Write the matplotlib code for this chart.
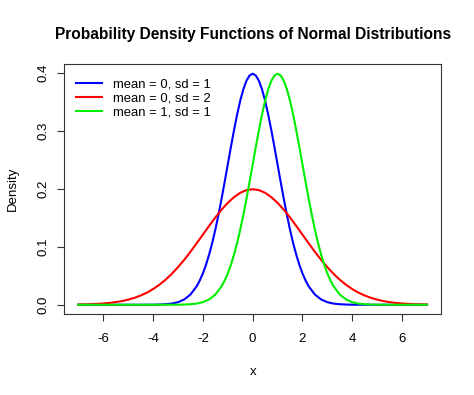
import matplotlib
matplotlib.use("Agg")
import matplotlib.pyplot as plt

plt.rcParams['font.family'] = ['Liberation Sans', 'DejaVu Sans']

# x grid for mean = 0, sd = 2 (step 0.25)
x_m0_s2 = [-7.0, -6.75, -6.5, -6.25, -6.0, -5.75, -5.5, -5.25, -5.0, -4.75, -4.5, -4.25,
           -4.0, -3.75, -3.5, -3.25, -3.0, -2.75, -2.5, -2.25, -2.0, -1.75, -1.5, -1.25,
           -1.0, -0.75, -0.5, -0.25, 0.0, 0.25, 0.5, 0.75, 1.0, 1.25, 1.5, 1.75, 2.0,
           2.25, 2.5, 2.75, 3.0, 3.25, 3.5, 3.75, 4.0, 4.25, 4.5, 4.75, 5.0, 5.25, 5.5,
           5.75, 6.0, 6.25, 6.5, 6.75, 7.0]
dens_m0_s2 = [0.0004, 0.0007, 0.0010, 0.0015, 0.0022, 0.0032, 0.0046, 0.0063, 0.0088, 0.0119, 0.0159, 0.0208,
              0.0270, 0.0344, 0.0431, 0.0533, 0.0648, 0.0774, 0.0913, 0.1060, 0.1210, 0.1360, 0.1506, 0.1641,
              0.1760, 0.1857, 0.1933, 0.1979, 0.1995, 0.1979, 0.1933, 0.1857, 0.1760, 0.1641, 0.1506, 0.1360, 0.1210,
              0.1060, 0.0913, 0.0774, 0.0648, 0.0533, 0.0431, 0.0344, 0.0270, 0.0208, 0.0159, 0.0119, 0.0088, 0.0063, 0.0046,
              0.0032, 0.0022, 0.0015, 0.0010, 0.0007, 0.0004]

# x grid for mean = 0, sd = 1 (finer near the peak)
x_m0_s1 = [-7.0, -6.75, -6.5, -6.25, -6.0, -5.75, -5.5, -5.25, -5.0, -4.75, -4.5, -4.25,
           -4.0, -3.75, -3.5, -3.25, -3.0, -2.75, -2.5, -2.25,
           -2.125, -2.0, -1.875, -1.75, -1.625, -1.5, -1.375, -1.25, -1.125, -1.0, -0.875, -0.75,
           -0.625, -0.5, -0.375, -0.25, -0.125, 0.0, 0.125, 0.25, 0.375, 0.5, 0.625, 0.75,
           0.875, 1.0, 1.125, 1.25, 1.375, 1.5, 1.625, 1.75, 1.875, 2.0, 2.125,
           2.25, 2.5, 2.75, 3.0, 3.25, 3.5, 3.75, 4.0, 4.25, 4.5, 4.75, 5.0, 5.25, 5.5,
           5.75, 6.0, 6.25, 6.5, 6.75, 7.0]
dens_m0_s1 = [0, 0, 0, 0, 0, 0, 0, 0, 0, 0, 0, 0.0001,
              0.0001, 0.0004, 0.0009, 0.0020, 0.0044, 0.0091, 0.0175, 0.0317,
              0.0417, 0.0540, 0.0688, 0.0863, 0.1065, 0.1295, 0.1550, 0.1826, 0.2119, 0.2420, 0.2721, 0.3011,
              0.3282, 0.3521, 0.3719, 0.3867, 0.3958, 0.3989, 0.3958, 0.3867, 0.3719, 0.3521, 0.3282, 0.3011,
              0.2721, 0.2420, 0.2119, 0.1826, 0.1550, 0.1295, 0.1065, 0.0863, 0.0688, 0.0540, 0.0417,
              0.0317, 0.0175, 0.0091, 0.0044, 0.0020, 0.0009, 0.0004, 0.0001, 0.0001, 0, 0, 0, 0, 0,
              0, 0, 0, 0, 0, 0]

# x grid for mean = 1, sd = 1 (finer near the peak)
x_m1_s1 = [-7.0, -6.75, -6.5, -6.25, -6.0, -5.75, -5.5, -5.25, -5.0, -4.75, -4.5, -4.25,
           -4.0, -3.75, -3.5, -3.25, -3.0, -2.75, -2.5, -2.25, -2.0, -1.75, -1.5, -1.25,
           -1.125, -1.0, -0.875, -0.75, -0.625, -0.5, -0.375, -0.25, -0.125, 0.0, 0.125, 0.25,
           0.375, 0.5, 0.625, 0.75, 0.875, 1.0, 1.125, 1.25, 1.375, 1.5, 1.625, 1.75,
           1.875, 2.0, 2.125, 2.25, 2.375, 2.5, 2.625, 2.75, 2.875, 3.0, 3.125,
           3.25, 3.5, 3.75, 4.0, 4.25, 4.5, 4.75, 5.0, 5.25, 5.5, 5.75, 6.0, 6.25, 6.5, 6.75, 7.0]
dens_m1_s1 = [0, 0, 0, 0, 0, 0, 0, 0, 0, 0, 0, 0,
              0, 0, 0, 0.0001, 0.0001, 0.0004, 0.0009, 0.0020, 0.0044, 0.0091, 0.0175, 0.0317,
              0.0417, 0.0540, 0.0688, 0.0863, 0.1065, 0.1295, 0.1550, 0.1826, 0.2119, 0.2420, 0.2721, 0.3011,
              0.3282, 0.3521, 0.3719, 0.3867, 0.3958, 0.3989, 0.3958, 0.3867, 0.3719, 0.3521, 0.3282, 0.3011,
              0.2721, 0.2420, 0.2119, 0.1826, 0.1550, 0.1295, 0.1065, 0.0863, 0.0688, 0.0540, 0.0417,
              0.0317, 0.0175, 0.0091, 0.0044, 0.0020, 0.0009, 0.0004, 0.0001, 0.0001, 0, 0, 0, 0, 0, 0, 0]

labels = ["mean = 0, sd = 1", "mean = 0, sd = 2", "mean = 1, sd = 1"]
colors = ["#0000FF", "#FF0000", "#00EE00"]

xticks = [-6, -4, -2, 0, 2, 4, 6]
yticks = [0.0, 0.1, 0.2, 0.3, 0.4]

fig = plt.figure(figsize=(4.74, 3.95), dpi=100)
ax = fig.add_axes([0.1357, 0.205, 0.7947, 0.632])

series = [(x_m0_s1, dens_m0_s1), (x_m0_s2, dens_m0_s2), (x_m1_s1, dens_m1_s1)]
for (xs, ys), c, lab in zip(series, colors, labels):
    ax.plot(xs, ys, color=c, lw=1.5, label=lab)

ax.set_xlim(-7.56, 7.56)
ax.set_ylim(-0.016, 0.415)
ax.set_xticks(xticks)
ax.set_xticklabels([str(t) for t in xticks])
ax.set_yticks(yticks)
ax.set_yticklabels(["%.1f" % t for t in yticks], rotation=90, va='center')
ax.tick_params(direction='out', length=5, width=0.8, labelsize=9.5, colors='#333333', labelcolor='black')
ax.tick_params(axis='x', pad=9)
ax.tick_params(axis='y', pad=6)
for s in ax.spines.values():
    s.set_color('#333333')
    s.set_linewidth(0.8)

ax.set_xlabel('x', fontsize=9.5, labelpad=15)
ax.set_ylabel('Density', fontsize=9.5, labelpad=13)
ax.set_title('Probability Density Functions of Normal Distributions',
             fontsize=11.2, fontweight='bold', pad=18.5)

ax.legend(loc='upper left', bbox_to_anchor=(0.007, 0.98), frameon=False, fontsize=9.4,
          handlelength=2.0, handletextpad=0.85, labelspacing=0.15, borderaxespad=0.3)

fig.savefig('out.png', dpi=100)
